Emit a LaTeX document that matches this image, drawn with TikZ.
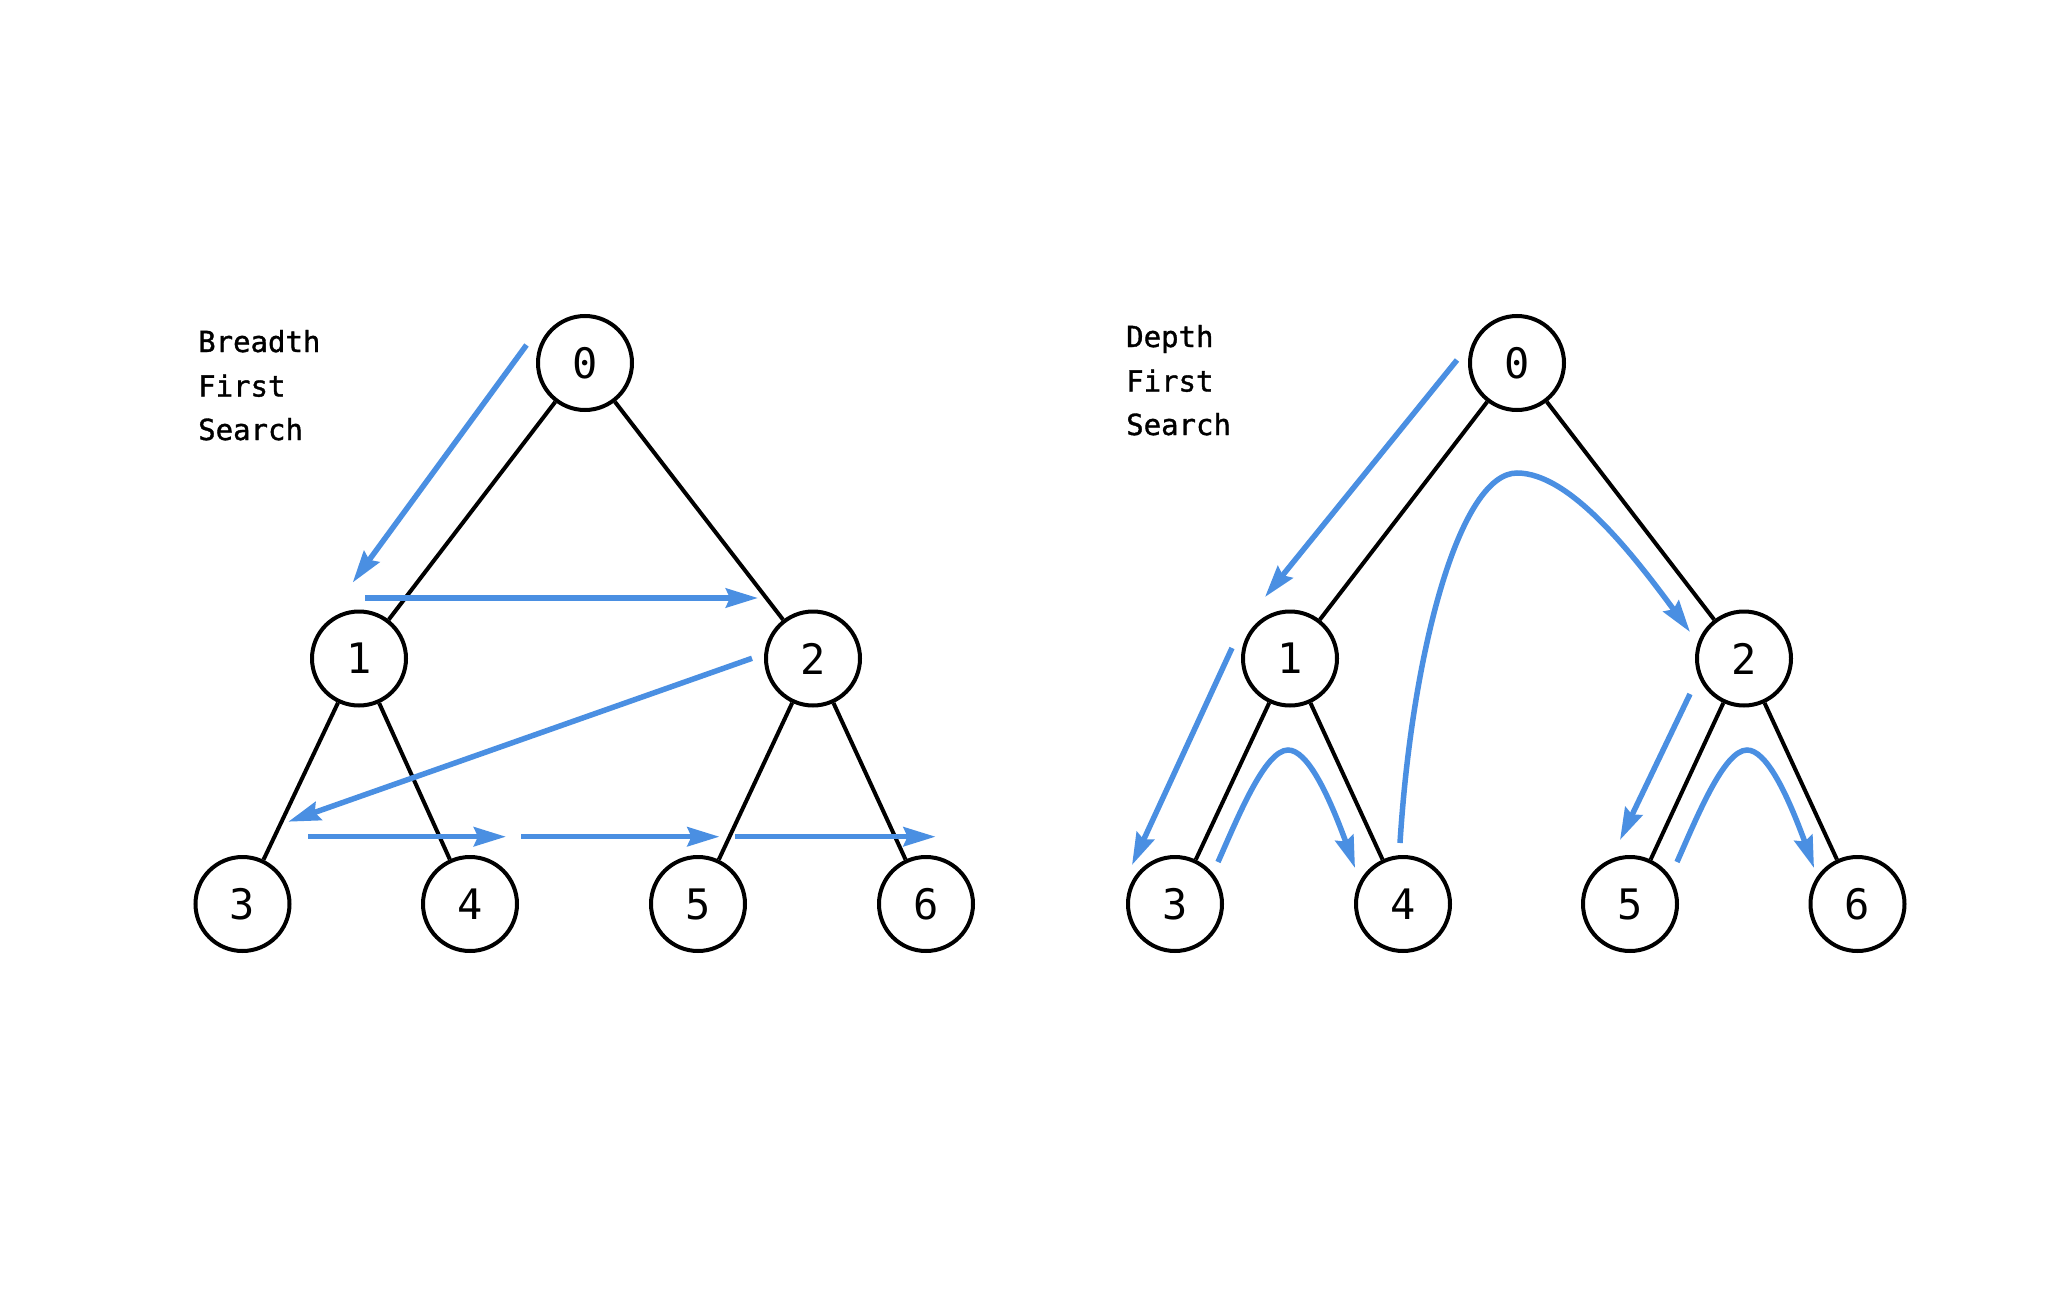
\documentclass[tikz,border=0pt]{standalone}
\usepackage{fontspec}
\setmonofont{DejaVu Sans Mono}
\usetikzlibrary{arrows.meta,bending}
\definecolor{flowblue}{HTML}{4A8FE2}
\font\titlefnt="DejaVu Sans Mono:embolden=1.2" at 29pt
\begin{document}
\begin{tikzpicture}[x=1pt,y=-1pt,
  treenode/.style={circle,draw=black,line width=4pt,minimum size=94pt,inner sep=0pt,
    font=\fontsize{42}{42}\selectfont\ttfamily},
  treeedge/.style={line width=4pt,black},
  flow/.style={line width=5.5pt,draw=flowblue,-{Stealth[length=32pt,width=19pt,inset=4pt]}},
  titletext/.style={anchor=base west,inner sep=0pt,font=\titlefnt}]
\fill[white] (0,0) rectangle (2065,1295);
\useasboundingbox (0,0) rectangle (2065,1295);

% ---------- Breadth First Search ----------
\node[titletext] (bt1) at (198,352) {Breadth};
\node[titletext] (bt2) at (198,396.5) {First};
\node[titletext] (bt3) at (198,440) {Search};

\node[treenode] (b0) at (585,363) {0};
\node[treenode] (b1) at (359,658.5) {1};
\node[treenode] (b2) at (813,658.5) {2};
\node[treenode] (b3) at (242.5,904) {3};
\node[treenode] (b4) at (470,904) {4};
\node[treenode] (b5) at (698,904) {5};
\node[treenode] (b6) at (926,904) {6};

\draw[treeedge] (b0) -- (b1);
\draw[treeedge] (b0) -- (b2);
\draw[treeedge] (b1) -- (b3);
\draw[treeedge] (b1) -- (b4);
\draw[treeedge] (b2) -- (b5);
\draw[treeedge] (b2) -- (b6);

\coordinate (bs1) at (526.5,345);  \coordinate (be1) at (352.7,582.5);
\coordinate (bs2) at (365,598);    \coordinate (be2) at (758,598);
\coordinate (bs3) at (752,658.3);  \coordinate (be3) at (288.3,821.7);
\coordinate (bs4) at (308,836.7);  \coordinate (be4) at (506,836.7);
\coordinate (bs5) at (521,836.7);  \coordinate (be5) at (719.5,836.7);
\coordinate (bs6) at (735.4,836.7);\coordinate (be6) at (935.6,836.7);

\draw[flow] (bs1) -- (be1);
\draw[flow] (bs2) -- (be2);
\draw[flow] (bs3) -- (be3);
\draw[flow] (bs4) -- (be4);
\draw[flow] (bs5) -- (be5);
\draw[flow] (bs6) -- (be6);

% ---------- Depth First Search ----------
\node[titletext] (dt1) at (1126,347) {Depth};
\node[titletext] (dt2) at (1126,391.5) {First};
\node[titletext] (dt3) at (1126,435) {Search};

\node[treenode] (d0) at (1517,363) {0};
\node[treenode] (d1) at (1290,658.5) {1};
\node[treenode] (d2) at (1744,658.5) {2};
\node[treenode] (d3) at (1175,904) {3};
\node[treenode] (d4) at (1403,904) {4};
\node[treenode] (d5) at (1630,904) {5};
\node[treenode] (d6) at (1857.5,904) {6};

\draw[treeedge] (d0) -- (d1);
\draw[treeedge] (d0) -- (d2);
\draw[treeedge] (d1) -- (d3);
\draw[treeedge] (d1) -- (d4);
\draw[treeedge] (d2) -- (d5);
\draw[treeedge] (d2) -- (d6);

\coordinate (ds1) at (1457,360);  \coordinate (de1) at (1265,597);
\coordinate (ds2) at (1400,843);  \coordinate (dp2) at (1517,473);  \coordinate (de2) at (1690,632);
\coordinate (ds3) at (1232,648);  \coordinate (de3) at (1132,865);
\coordinate (ds4) at (1218,862);  \coordinate (dp4) at (1288,750);  \coordinate (de4) at (1355,868);
\coordinate (ds5) at (1690,694);  \coordinate (de5) at (1620,840);
\coordinate (ds6) at (1677,862);  \coordinate (dp6) at (1747,750);  \coordinate (de6) at (1814,868);

\draw[flow] (ds1) -- (de1);
\draw[flow] (ds2) .. controls (1412,650) and (1460,473) .. (dp2)
                 .. controls (1575,473) and (1645,570) .. (de2);
\draw[flow] (ds3) -- (de3);
\draw[flow] (ds4) .. controls (1238,817) and (1265,750) .. (dp4)
                 .. controls (1311,750) and (1336,812) .. (de4);
\draw[flow] (ds5) -- (de5);
\draw[flow] (ds6) .. controls (1697,817) and (1724,750) .. (dp6)
                 .. controls (1770,750) and (1795,812) .. (de6);
\end{tikzpicture}
\end{document}
